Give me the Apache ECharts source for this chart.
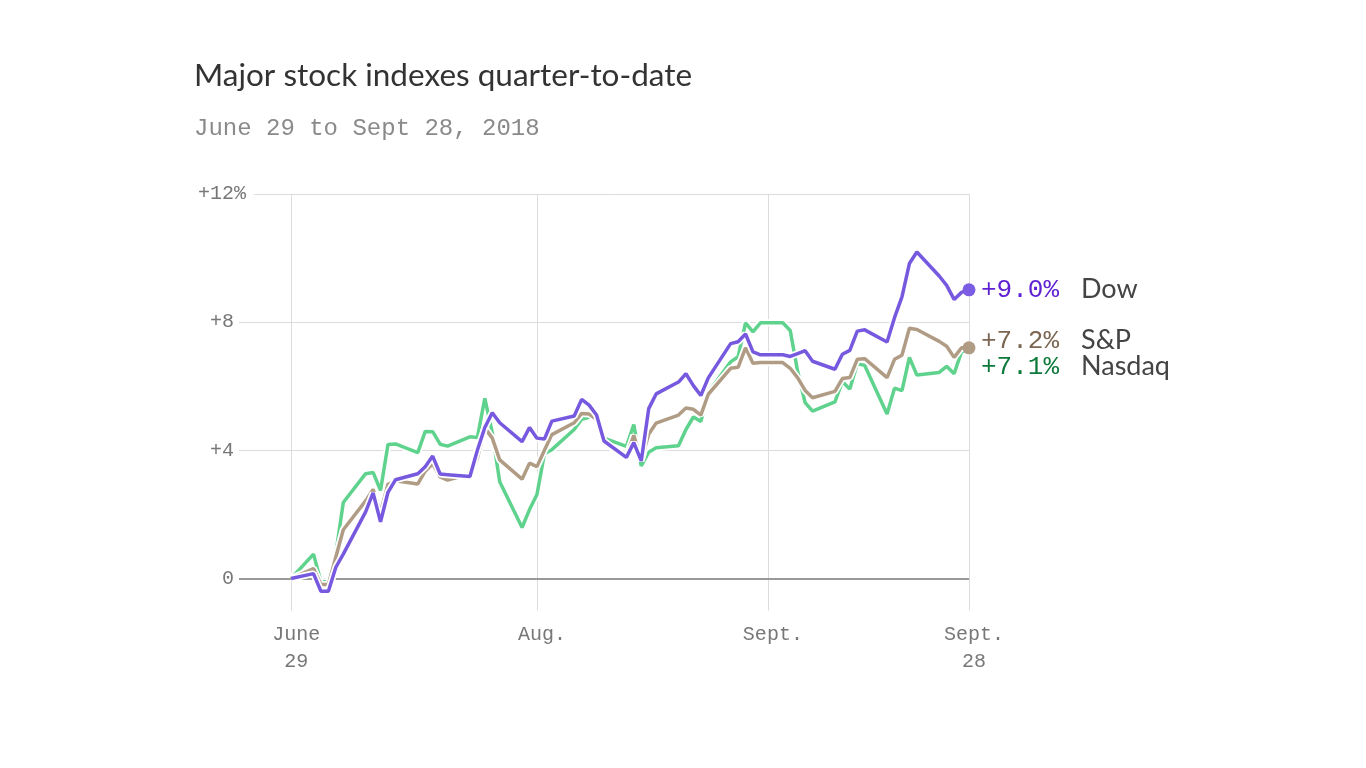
<!DOCTYPE html>
<html>
<head>
<meta charset="utf-8">
<title>Major stock indexes quarter-to-date</title>
<script src="https://cdn.jsdelivr.net/npm/echarts@6/dist/echarts.min.js"></script>
<style>
  html, body { margin: 0; padding: 0; background: #fff; }
  #chart { width: 1366px; height: 768px; }
</style>
</head>
<body>
<div id="chart"></div>
<script>
// trading days (July 4 and Sept 3 carry the previous close)
var dates = [
    '2018-06-29', '2018-07-02', '2018-07-03', '2018-07-04', '2018-07-05', '2018-07-06',
    '2018-07-09', '2018-07-10', '2018-07-11', '2018-07-12', '2018-07-13',
    '2018-07-16', '2018-07-17', '2018-07-18', '2018-07-19', '2018-07-20',
    '2018-07-23', '2018-07-24', '2018-07-25', '2018-07-26', '2018-07-27',
    '2018-07-30', '2018-07-31', '2018-08-01', '2018-08-02', '2018-08-03',
    '2018-08-06', '2018-08-07', '2018-08-08', '2018-08-09', '2018-08-10',
    '2018-08-13', '2018-08-14', '2018-08-15', '2018-08-16', '2018-08-17',
    '2018-08-20', '2018-08-21', '2018-08-22', '2018-08-23', '2018-08-24',
    '2018-08-27', '2018-08-28', '2018-08-29', '2018-08-30', '2018-08-31',
    '2018-09-03',
    '2018-09-04', '2018-09-05', '2018-09-06', '2018-09-07',
    '2018-09-10', '2018-09-11', '2018-09-12', '2018-09-13', '2018-09-14',
    '2018-09-17', '2018-09-18', '2018-09-19', '2018-09-20', '2018-09-21',
    '2018-09-24', '2018-09-25', '2018-09-26', '2018-09-27', '2018-09-28'
];

var dow = [
    0, 0.15, -0.40, -0.40, 0.35, 0.76,
    2.08, 2.67, 1.77, 2.69, 3.08,
    3.27, 3.49, 3.82, 3.26, 3.24,
    3.18, 4.00, 4.71, 5.17, 4.86,
    4.27, 4.71, 4.38, 4.35, 4.91,
    5.07, 5.59, 5.41, 5.10, 4.29,
    3.78, 4.24, 3.67, 5.30, 5.76,
    6.13, 6.39, 6.02, 5.71, 6.26,
    7.33, 7.39, 7.63, 7.07, 6.98,
    6.98,
    6.93, 7.02, 7.11, 6.78,
    6.53, 7.00, 7.12, 7.72, 7.76,
    7.38, 8.14, 8.79, 9.83, 10.19,
    9.44, 9.15, 8.71, 8.93, 9.01
];

var sp = [
    0, 0.31, -0.19, -0.19, 0.67, 1.52,
    2.42, 2.78, 2.05, 2.94, 3.05,
    2.95, 3.35, 3.58, 3.17, 3.07,
    3.26, 3.75, 4.70, 4.38, 3.70,
    3.10, 3.60, 3.49, 4.00, 4.49,
    4.86, 5.15, 5.13, 4.97, 4.23,
    3.81, 4.47, 3.68, 4.50, 4.85,
    5.10, 5.32, 5.28, 5.10, 5.75,
    6.56, 6.59, 7.20, 6.72, 6.74,
    6.74,
    6.56, 6.26, 5.87, 5.64,
    5.84, 6.24, 6.27, 6.84, 6.86,
    6.27, 6.84, 6.97, 7.81, 7.77,
    7.40, 7.25, 6.90, 7.20, 7.20
];

var nasdaq = [
    0, 0.76, -0.10, -0.10, 0.78, 2.37,
    3.27, 3.31, 2.75, 4.18, 4.20,
    3.93, 4.59, 4.58, 4.19, 4.13,
    4.42, 4.40, 5.62, 4.55, 3.02,
    1.59, 2.15, 2.62, 3.89, 4.02,
    4.65, 4.97, 5.03, 5.08, 4.38,
    4.12, 4.80, 3.51, 3.94, 4.08,
    4.14, 4.65, 5.04, 4.90, 5.80,
    6.76, 6.92, 7.98, 7.70, 7.98,
    7.98,
    7.74, 6.46, 5.49, 5.22,
    5.51, 6.15, 5.91, 6.70, 6.65,
    5.13, 5.94, 5.86, 6.90, 6.35,
    6.43, 6.62, 6.39, 7.08, 7.14
];

var tickDates = ['2018-06-29', '2018-08-01', '2018-09-01', '2018-09-28'];
var tickLabels = ['June\n29', 'Aug.', 'Sept.', 'Sept.\n28'];
var yTickLabels = {0: '  0', 4: ' +4', 8: ' +8', 12: '+12%'};

var mono = '"Liberation Mono", "DejaVu Sans Mono", monospace';
var sans = 'Lato, "Noto Sans", sans-serif';

var chart = echarts.init(document.getElementById('chart'));

function toTime(s) {
    return echarts.number.parseDate(s).getTime();
}

function pairs(values, dotColor) {
    return values.map(function (v, i) {
        var item = {value: [toTime(dates[i]), v]};
        if (dotColor && i === values.length - 1) {
            item.symbol = 'circle';
            item.symbolSize = 13;
            item.itemStyle = {color: dotColor};
        }
        return item;
    });
}

// white border under each line, so crossings get a thin gap
function halo(values, z) {
    return {
        type: 'line',
        data: pairs(values),
        symbol: 'none',
        silent: true,
        clip: false,
        z: z,
        lineStyle: {color: '#fff', width: 7}
    };
}

function indexLine(name, values, color, dotColor, valueColor, offset, z) {
    return {
        name: name,
        type: 'line',
        data: pairs(values, dotColor),
        symbol: 'none',
        showSymbol: true,
        clip: false,
        z: z,
        lineStyle: {color: color, width: 3.5},
        endLabel: {
            show: true,
            distance: 12,
            offset: offset,
            formatter: function (p) {
                var v = p.value[1];
                return '{v|+' + v.toFixed(1) + '%}{n|' + name + '}';
            },
            rich: {
                v: {fontFamily: mono, fontSize: 26, color: valueColor, width: 100},
                n: {fontFamily: sans, fontSize: 27, color: '#444'}
            }
        }
    };
}

var gridStyle = {color: '#dcdcdc', width: 1, type: 'solid'};
var tickTimes = tickDates.map(toTime);

var option = {
    animation: false,
    title: [{
        text: 'Major stock indexes quarter-to-date',
        left: 194,
        top: 60,
        padding: 0,
        textStyle: {fontFamily: sans, fontSize: 31.5, fontWeight: 'normal', color: '#333'}
    }, {
        text: 'June 29 to Sept 28, 2018',
        left: 194,
        top: 117,
        padding: 0,
        textStyle: {fontFamily: mono, fontSize: 24, fontWeight: 'normal', color: '#8a8a8a'}
    }],
    grid: {left: 239, right: 397, top: 194, bottom: 157.5},
    xAxis: {
        type: 'value',
        min: toTime('2018-06-22'),
        max: toTime('2018-09-28'),
        axisLine: {show: false},
        axisTick: {show: false},
        splitLine: {show: false},
        axisLabel: {
            customValues: tickTimes,
            margin: 11,
            padding: [0, 0, 0, 10],
            fontFamily: mono,
            fontSize: 20,
            lineHeight: 27,
            color: '#777',
            formatter: function (value) {
                var i = tickTimes.indexOf(value);
                return i >= 0 ? tickLabels[i] : '';
            }
        }
    },
    yAxis: {
        type: 'value',
        min: -1,
        max: 12,
        interval: 1,
        axisLine: {show: false},
        axisTick: {show: false},
        splitLine: {show: false},
        axisLabel: {
            align: 'left',
            margin: 41,
            fontFamily: mono,
            fontSize: 20,
            color: '#777',
            formatter: function (v) {
                return yTickLabels[v] !== undefined ? yTickLabels[v] : '';
            }
        }
    },
    series: [
        {
            type: 'line',
            data: [],
            silent: true,
            z: 1,
            markLine: {
                silent: true,
                z: 1,
                symbol: 'none',
                label: {show: false},
                lineStyle: gridStyle,
                data: [
                    {yAxis: 4},
                    {yAxis: 8},
                    [{coord: [toTime('2018-06-24'), 12]}, {coord: [tickTimes[3], 12]}],
                    {xAxis: tickTimes[0]},
                    {xAxis: tickTimes[1]},
                    {xAxis: tickTimes[2]},
                    {xAxis: tickTimes[3]},
                    {yAxis: 0, lineStyle: {color: '#999', width: 2, type: 'solid'}}
                ]
            }
        },
        halo(nasdaq, 2),
        indexLine('Nasdaq', nasdaq, '#5fd38d', null, '#0d7a3c', [0, 17], 3),
        halo(sp, 4),
        indexLine('S&P', sp, '#b09c85', '#b09c85', '#7b6652', [0, -7], 5),
        halo(dow, 6),
        indexLine('Dow', dow, '#7759e0', '#7a5de3', '#5f22d3', [0, 0], 7)
    ]
};

chart.setOption(option);
</script>
</body>
</html>
